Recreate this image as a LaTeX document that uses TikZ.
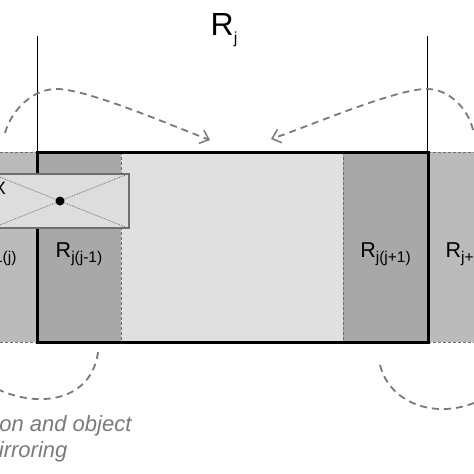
\documentclass[tikz,border=0pt]{standalone}
\usepackage{fontspec}
\setmainfont{Liberation Sans}
\usetikzlibrary{arrows.meta}

\definecolor{regiondark}{HTML}{A8A8A8}
\definecolor{regionout}{HTML}{BBBBBB}
\definecolor{regionmid}{HTML}{E0E0E0}
\definecolor{objfill}{HTML}{DDDDDD}
\definecolor{objline}{HTML}{6E6E6E}
\definecolor{flowgray}{HTML}{7A7A7A}

\newcommand{\rlabel}[1]{R\raisebox{-5pt}{\fontsize{15.5}{15.5}\selectfont #1}}

\tikzset{
  flow/.style={flowgray, line width=1.8pt, dash pattern=on 7pt off 5pt},
  flowtip/.style={-{Straight Barb[length=8pt,width=14pt,line width=1.5pt]}},
  seam/.style={objline, line width=0.9pt, dash pattern=on 3pt off 2pt},
  regionname/.style={anchor=base, font=\fontsize{21.5}{21.5}\selectfont},
  objbox/.style={draw=objline, fill=objfill, line width=1.5pt, minimum width=138pt, minimum height=54pt, inner sep=0pt}
}

\begin{document}
\begin{tikzpicture}[x=1pt, y=-1pt]
\useasboundingbox (0,0) rectangle (474,474);
\clip (0,0) rectangle (474,474);

% regions
\fill[regionout] (-60,152) rectangle (37,342);
\fill[regionout] (428,152) rectangle (530,342);
\fill[regiondark] (37,152) rectangle (121,342);
\fill[regionmid] (121,152) rectangle (343,342);
\fill[regiondark] (343,152) rectangle (428,342);
\draw[seam] (-60,152) -- (37,152) (-60,342) -- (37,342);
\draw[seam] (428,152) -- (530,152) (428,342) -- (530,342);
\draw[seam] (121,152) -- (121,342);
\draw[seam] (343,152) -- (343,342);
\draw[line width=3pt] (37,152) rectangle (428,342);

% extent of R_j
\coordinate (leftmark) at (37,36);
\coordinate (leftfoot) at (37,152);
\coordinate (rightmark) at (427,36);
\coordinate (rightfoot) at (427,152);
\draw[line width=0.8pt] (leftmark) -- (leftfoot);
\draw[line width=0.8pt] (rightmark) -- (rightfoot);

\node[anchor=base, font=\fontsize{32}{32}\selectfont] (title) at (224,35) {R\raisebox{-8pt}{\fontsize{16}{16}\selectfont j}};

\node[regionname] (prevlap) at (79,257) {\rlabel{j(j-1)}};
\node[regionname] (nextlap) at (385.5,257) {\rlabel{j(j+1)}};
\node[regionname, anchor=base east] (prevregion) at (20,257) {\rlabel{j-1(j)}};
\node[regionname, anchor=base west] (nextregion) at (442,257) {\rlabel{j+1(j)}};

% object
\node[objbox] (obj) at (60,201) {};
\draw[objline, densely dotted, line width=0.8pt] (obj.north west) -- (obj.south east);
\draw[objline, densely dotted, line width=0.8pt] (obj.south west) -- (obj.north east);
\fill (obj.center) circle (4.5pt);
\node[font=\fontsize{18}{18}\selectfont] (objname) at (0,188.5) {X};

% moves
\coordinate (tlstart) at (5,133);
\coordinate (tltip) at (210,140);
\coordinate (trstart) at (473,130);
\coordinate (trtip) at (271,139);
\coordinate (blstart) at (98,352);
\coordinate (blend) at (-5,388);
\coordinate (brstart) at (380,365);
\coordinate (brend) at (485,398);
\draw[flow, flowtip] (tlstart) .. controls (12,108) and (35,88) .. (58,89) .. controls (90,90) and (175,127) .. (tltip);
\draw[flow, flowtip] (trstart) .. controls (468,108) and (448,88) .. (425,89) .. controls (393,90) and (307,127) .. (trtip);
\draw[flow] (blstart) .. controls (92,400) and (40,410) .. (blend);
\draw[flow] (brstart) .. controls (390,405) and (440,422) .. (brend);

\node[anchor=base, align=center, text=flowgray, font=\fontsize{22}{26}\selectfont\itshape] (mirrortext) at (24,457) {Translation and object\\mirroring};
\end{tikzpicture}
\end{document}
